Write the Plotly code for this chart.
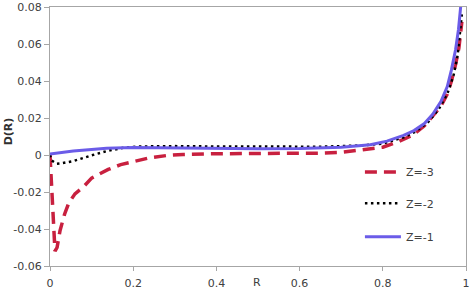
import plotly.graph_objects as go

# Z = -3 (dashed red)
r_z3 = [0, 0.004, 0.008, 0.012, 0.017, 0.024, 0.035, 0.045, 0.06, 0.08, 0.1, 0.12, 0.14, 0.17,
        0.2, 0.24, 0.28, 0.32, 0.4, 0.5, 0.6, 0.65, 0.7, 0.75, 0.8, 0.84, 0.87, 0.9, 0.92,
        0.94, 0.955, 0.965, 0.975, 0.983, 0.99]
d_z3 = [0, -0.02, -0.042, -0.052, -0.050, -0.041, -0.032, -0.026, -0.021, -0.0173, -0.0125,
        -0.0099, -0.0078, -0.0052, -0.0035, -0.0015, -0.0003, 0.0003, 0.0007, 0.0007, 0.0008,
        0.001, 0.0014, 0.0026, 0.0042, 0.0075, 0.0105, 0.0158, 0.021, 0.0265, 0.033, 0.040,
        0.049, 0.058, 0.072]

# Z = -2 (dotted black)
r_z2 = [0, 0.004, 0.016, 0.03, 0.056, 0.08, 0.1, 0.136, 0.176, 0.21, 0.25, 0.3, 0.4, 0.5, 0.6,
        0.65, 0.7, 0.75, 0.8, 0.85, 0.88, 0.91, 0.935, 0.955, 0.97, 0.98, 0.99]
d_z2 = [0, -0.003, -0.0047, -0.0044, -0.0033, -0.0015, -0.0002, 0.0021, 0.0039, 0.0046, 0.0048,
        0.0048, 0.0046, 0.0045, 0.0044, 0.0045, 0.0048, 0.0052, 0.0062, 0.0095, 0.0128, 0.018,
        0.025, 0.033, 0.043, 0.054, 0.076]

# Z = -1 (solid purple)
r_z1 = [0, 0.02, 0.056, 0.1, 0.136, 0.2, 0.3, 0.4, 0.5, 0.6, 0.65, 0.7, 0.77, 0.81, 0.85, 0.875,
        0.9, 0.92, 0.94, 0.955, 0.965, 0.975, 0.982, 0.988]
d_z1 = [0.0005, 0.0012, 0.0021, 0.003, 0.0036, 0.004, 0.0037, 0.0035, 0.0034, 0.0035, 0.0038,
        0.0042, 0.0055, 0.0075, 0.0106, 0.0132, 0.017, 0.022, 0.029, 0.037, 0.046, 0.057, 0.068,
        0.082]

x_ticks = [0, 0.2, 0.4, 0.6, 0.8, 1]
x_tick_text = ["0", "0.2", "0.4", "0.6", "0.8", "1"]
y_ticks = [-0.06, -0.04, -0.02, 0, 0.02, 0.04, 0.06, 0.08]
y_tick_text = ["-0.06", "-0.04", "-0.02", "0", "0.02", "0.04", "0.06", "0.08"]

FONT = "DejaVu Sans"
TXT = "#404040"
AX = "#a6a6a6"

fig = go.Figure()
fig.add_trace(go.Scatter(x=r_z3, y=d_z3, mode="lines", name="Z=-3", legend="legend",
                         line=dict(color="#C8203F", width=3.5, dash="12px,7px")))
fig.add_trace(go.Scatter(x=r_z2, y=d_z2, mode="lines", name="Z=-2", legend="legend2",
                         line=dict(color="#000000", width=2.5, dash="2.5px,3.5px")))
fig.add_trace(go.Scatter(x=r_z1, y=d_z1, mode="lines", name="Z=-1", legend="legend3",
                         line=dict(color="#6B5CE8", width=3)))

leg_common = dict(font=dict(family=FONT, size=11, color=TXT), bgcolor="rgba(0,0,0,0)",
                  xanchor="left", yanchor="middle", itemwidth=36)

fig.update_layout(
    width=474, height=289,
    margin=dict(l=50, r=8, t=7, b=23, autoexpand=False),
    paper_bgcolor="white", plot_bgcolor="white",
    showlegend=True,
    font=dict(family=FONT, size=11, color=TXT),
    legend=dict(x=0.745, y=0.363, **leg_common),
    legend2=dict(x=0.745, y=0.242, **leg_common),
    legend3=dict(x=0.745, y=0.113, **leg_common),
    xaxis=dict(range=[0, 1], tickvals=x_ticks, ticktext=x_tick_text, showgrid=False,
               zeroline=False, showline=True, linecolor=AX, linewidth=1, mirror=True,
               ticks="outside", ticklen=4, tickcolor=AX, ticklabelstandoff=3,
               automargin=False, ticklabeloverflow="allow",
               tickfont=dict(family=FONT, size=11, color=TXT)),
    yaxis=dict(range=[-0.06, 0.08], tickvals=y_ticks, ticktext=y_tick_text, showgrid=False,
               zeroline=False, showline=True, linecolor=AX, linewidth=1, mirror=True,
               ticks="outside", ticklen=5, tickcolor=AX, automargin=False,
               ticklabeloverflow="allow",
               tickfont=dict(family=FONT, size=11, color=TXT)),
    annotations=[
        dict(text="R", x=0.4976, y=-0.062, xref="paper", yref="paper", showarrow=False,
             xanchor="center", yanchor="middle", font=dict(family=FONT, size=11, color=TXT)),
        dict(text="<b>D(R)</b>", x=-0.101, y=0.52, xref="paper", yref="paper", showarrow=False,
             textangle=-90, xanchor="center", yanchor="middle",
             font=dict(family=FONT, size=11, color="#303030")),
    ],
)

fig.write_html("out.html")
